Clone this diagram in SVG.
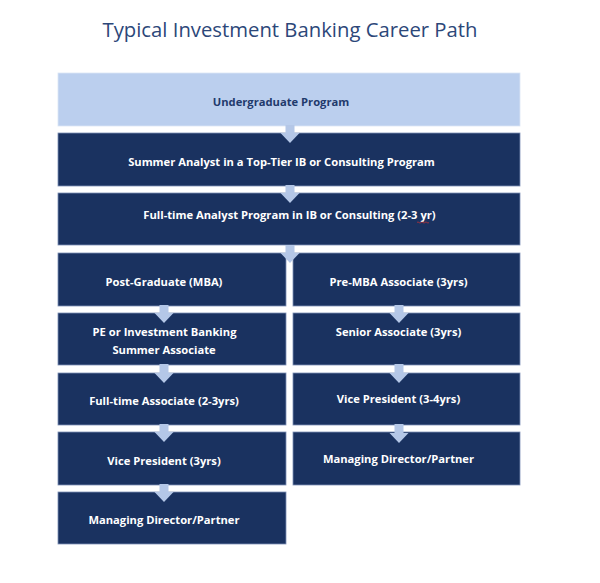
<svg xmlns="http://www.w3.org/2000/svg" width="600" height="583" viewBox="0 0 600 583">
<style>
.bx{fill:#1a3260;stroke:#7d90b6;stroke-width:0.8}
.lt{fill:#bbcfee;stroke:#dbe5f5;stroke-width:0.8}
.t{font-family:"Open Sans","Liberation Sans",sans-serif;font-weight:bold;font-size:11.2px;fill:#ffffff;text-anchor:middle}
.td{fill:#1f3a6c}
.ar{fill:#b4c7e7}
</style>
<rect width="600" height="583" fill="#ffffff"/>
<text x="290" y="37" font-family="'Open Sans','Liberation Sans',sans-serif" font-size="20.3" fill="#2c4779" text-anchor="middle">Typical Investment Banking Career Path</text>

<g id="n1"><rect class="lt" x="58" y="73" width="462" height="53"/><text class="t td" x="281" y="106">Undergraduate Program</text></g>
<g id="n2"><rect class="bx" x="58" y="133" width="462" height="53"/><text class="t" x="281.5" y="166">Summer Analyst in a Top-Tier IB or Consulting Program</text></g>
<g id="n3"><rect class="bx" x="58" y="193" width="462" height="52"/><text class="t" x="289.5" y="219">Full-time Analyst Program in IB or Consulting (2-3 yr)</text><path d="M417 222.5 q1 -1.2 2 0 t2 0 t2 0 t2 0 t2 0 t2 0" fill="none" stroke="#d03030" stroke-width="0.7"/></g>

<g id="n4"><rect class="bx" x="58" y="253" width="228" height="53"/><text class="t" x="164" y="286">Post-Graduate (MBA)</text></g>
<g id="n5"><rect class="bx" x="58" y="313" width="228" height="52"/><text class="t" x="164.5" y="336">PE or Investment Banking</text><text class="t" x="164" y="354">Summer Associate</text></g>
<g id="n6"><rect class="bx" x="58" y="373" width="228" height="52"/><text class="t" x="164" y="405">Full-time Associate (2-3yrs)</text></g>
<g id="n7"><rect class="bx" x="58" y="432" width="228" height="53"/><text class="t" x="164" y="465">Vice President (3yrs)</text></g>
<g id="n8"><rect class="bx" x="58" y="492" width="228" height="52"/><text class="t" x="164" y="524">Managing Director/Partner</text></g>

<g id="n9"><rect class="bx" x="293" y="253" width="227" height="53"/><text class="t" x="398.5" y="286">Pre-MBA Associate (3yrs)</text></g>
<g id="n10"><rect class="bx" x="293" y="313" width="227" height="52"/><text class="t" x="398.5" y="336">Senior Associate (3yrs)</text></g>
<g id="n11"><rect class="bx" x="293" y="373" width="227" height="52"/><text class="t" x="398.5" y="403">Vice President (3-4yrs)</text></g>
<g id="n12"><rect class="bx" x="293" y="432" width="227" height="53"/><text class="t" x="398.5" y="463">Managing Director/Partner</text></g>

<g id="connectors">
<path class="ar" d="M285.5 125h9v8h5l-9.5 10l-9.5-10h5z"/>
<path class="ar" d="M285.5 185h9v8h5l-9.5 10l-9.5-10h5z"/>
<path class="ar" d="M285.5 245h9v8h5l-9.5 10l-9.5-10h5z"/>
<path class="ar" d="M159.5 305h9v8h5l-9.5 10l-9.5-10h5z"/>
<path class="ar" d="M159.5 364h9v9h5l-9.5 10l-9.5-10h5z"/>
<path class="ar" d="M159.5 424h9v8h5l-9.5 10l-9.5-10h5z"/>
<path class="ar" d="M159.5 484h9v8h5l-9.5 10l-9.5-10h5z"/>
<path class="ar" d="M394.5 305h9v8h5l-9.5 10l-9.5-10h5z"/>
<path class="ar" d="M394.5 364h9v9h5l-9.5 10l-9.5-10h5z"/>
<path class="ar" d="M394.5 424h9v9h5l-9.5 10l-9.5-10h5z"/>
</g>
</svg>
